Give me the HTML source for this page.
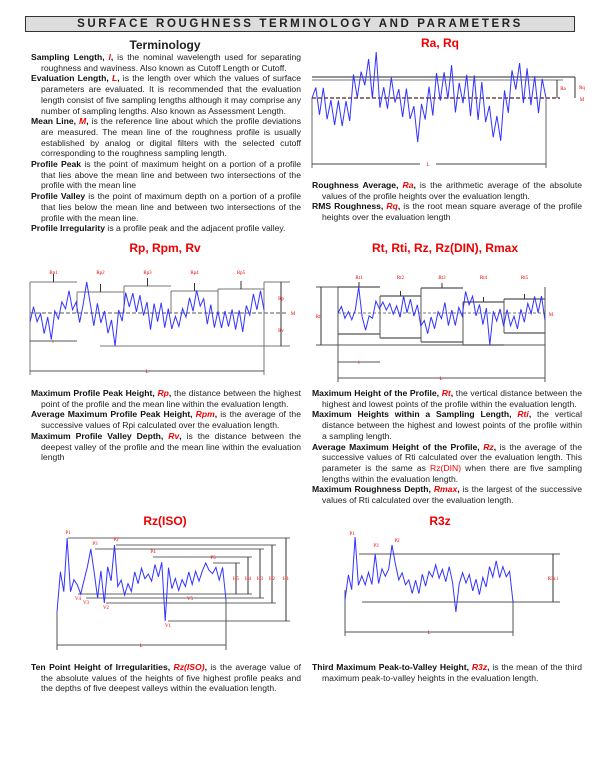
<!DOCTYPE html>
<html><head><meta charset="utf-8">
<style>
body{margin:0;width:600px;height:776px;background:#fff;position:relative;overflow:hidden;font-family:"Liberation Sans",sans-serif;color:#222}
.hdr{position:absolute;left:25px;top:16px;width:548px;height:14px;border:1.5px solid #333;background:#ddd;font-weight:bold;font-size:11.5px;letter-spacing:2.6px;text-align:center;line-height:15px}
.t{position:absolute;font-weight:bold;font-size:12px;text-align:center}
.r{color:#e00}
.txt{position:absolute;font-size:8.6px;line-height:10.7px;text-align:justify}
.txt p{margin:0;padding-left:10px;text-indent:-10px}
.txt b{color:#111}
.txt i{color:#e00;font-weight:bold}
svg{position:absolute;left:0;top:0}
</style></head><body>
<div class="hdr">SURFACE ROUGHNESS TERMINOLOGY AND PARAMETERS</div>
<div class="t" style="left:80px;top:38px;width:170px">Terminology</div>
<div class="t r" style="left:380px;top:36px;width:120px">Ra, Rq</div>
<div class="t r" style="left:80px;top:241px;width:170px">Rp, Rpm, Rv</div>
<div class="t r" style="left:340px;top:241px;width:210px">Rt, Rti, Rz, Rz(DIN), Rmax</div>
<div class="t r" style="left:80px;top:514px;width:170px">Rz(ISO)</div>
<div class="t r" style="left:380px;top:514px;width:120px">R3z</div>

<div class="txt" style="left:31px;top:52px;width:270px">
<p><b>Sampling Length, <i>l</i>,</b> is the nominal wavelength used for separating roughness and waviness. Also known as Cutoff Length or Cutoff.</p>
<p><b>Evaluation Length, <i>L</i>,</b> is the length over which the values of surface parameters are evaluated. It is recommended that the evaluation length consist of five sampling lengths although it may comprise any number of sampling lengths. Also known as Assessment Length.</p>
<p><b>Mean Line, <i>M</i>,</b> is the reference line about which the profile deviations are measured. The mean line of the roughness profile is usually established by analog or digital filters with the selected cutoff corresponding to the roughness sampling length.</p>
<p><b>Profile Peak</b> is the point of maximum height on a portion of a profile that lies above the mean line and between two intersections of the profile with the mean line</p>
<p><b>Profile Valley</b> is the point of maximum depth on a portion of a profile that lies below the mean line and between two intersections of the profile with the mean line.</p>
<p><b>Profile Irregularity</b> is a profile peak and the adjacent profile valley.</p>
</div>

<div class="txt" style="left:312px;top:180px;width:270px">
<p><b>Roughness Average, <i>Ra</i>,</b> is the arithmetic average of the absolute values of the profile heights over the evaluation length.</p>
<p><b>RMS Roughness, <i>Rq</i>,</b> is the root mean square average of the profile heights over the evaluation length</p>
</div>

<div class="txt" style="left:31px;top:388px;width:270px">
<p><b>Maximum Profile Peak Height, <i>Rp</i>,</b> the distance between the highest point of the profile and the mean line within the evaluation length.</p>
<p><b>Average Maximum Profile Peak Height, <i>Rpm</i>,</b> is the average of the successive values of Rpi calculated over the evaluation length.</p>
<p><b>Maximum Profile Valley Depth, <i>Rv</i>,</b> is the distance between the deepest valley of the profile and the mean line within the evaluation length</p>
</div>

<div class="txt" style="left:312px;top:388px;width:270px">
<p><b>Maximum Height of the Profile, <i>Rt</i>,</b> the vertical distance between the highest and lowest points of the profile within the evaluation length.</p>
<p><b>Maximum Heights within a Sampling Length, <i>Rti</i>,</b> the vertical distance between the highest and lowest points of the profile within a sampling length.</p>
<p><b>Average Maximum Height of the Profile, <i>Rz</i>,</b> is the average of the successive values of Rti calculated over the evaluation length. This parameter is the same as <span class="r">Rz(DIN)</span> when there are five sampling lengths within the evaluation length.</p>
<p><b>Maximum Roughness Depth, <i>Rmax</i>,</b> is the largest of the successive values of Rti calculated over the evaluation length.</p>
</div>

<div class="txt" style="left:31px;top:662px;width:270px">
<p><b>Ten Point Height of Irregularities, <i>Rz(ISO)</i>,</b> is the average value of the absolute values of the heights of five highest profile peaks and the depths of five deepest valleys within the evaluation length.</p>
</div>
<div class="txt" style="left:312px;top:662px;width:270px">
<p><b>Third Maximum Peak-to-Valley Height, <i>R3z</i>,</b> is the mean of the third maximum peak-to-valley heights in the evaluation length.</p>
</div>

<svg id="s" width="600" height="776" xmlns="http://www.w3.org/2000/svg" font-family="Liberation Serif" font-size="5" fill="#e00"></svg>
<script>
var s=document.getElementById('s'),h='';
var seed=7;function rnd(){seed=(seed*16807)%2147483647;return seed/2147483647;}
function prof(x0,x1,mid,amp,n,fix){var p=[],dx=(x1-x0)/n;
var ph1=rnd()*6.28,ph2=rnd()*6.28,f1=0.25+rnd()*0.15,f2=0.6+rnd()*0.3;
for(var i=0;i<=n;i++){
var y=mid+amp*(0.45*Math.sin(i*f1+ph1)+0.25*Math.sin(i*f2+ph2))+(i%2?-1:1)*(0.15+rnd()*0.5)*amp;
if(fix&&fix[i]!==undefined)y=fix[i];p.push((x0+i*dx).toFixed(1)+','+y.toFixed(1));}return '<polyline points="'+p.join(' ')+'" fill="none" stroke="#33f" stroke-width="1"/>';}
function L(x1,y1,x2,y2,c,w,d){return '<line x1="'+x1+'" y1="'+y1+'" x2="'+x2+'" y2="'+y2+'" stroke="'+(c||'#666')+'" stroke-width="'+(w||1)+'"'+(d?' stroke-dasharray="'+d+'"':'')+'/>';}
function T(x,y,t){return '<text x="'+x+'" y="'+y+'" text-anchor="middle">'+t+'</text>';}
// Ra
h+=L(312,77,575,77,'#555',1.2)+L(312,80,563,80,'#777');
h+=L(312,98,560,98,'#522',1.2,'4,2');
h+=L(312,98,312,168)+L(546,98,546,168)+L(312,164,420,164,'#444')+L(436,164,546,164,'#444');
h+=L(557,80,557,98,'#333')+L(575,77,575,98,'#333');
h+=T(428,166,'L')+T(563,90,'Ra')+T(582,89,'Rq')+T(582,101,'M');
seed=11;h+=prof(312,546,98,36,62,{0:98,17:52,62:98});
// Rp
var bx=[30,77,124,171,218,264],bt=[282,292,286,291,289];
h+=L(30,313,288,313,'#777',1.2,'4,2');
for(var i=0;i<5;i++){h+=L(bx[i],bt[i],bx[i+1],bt[i],'#777')+L(bx[i],bt[i],bx[i],i==0?375:313,'#777')+L((bx[i]+bx[i+1])/2,bt[i]-8,(bx[i]+bx[i+1])/2,bt[i],'#333')+T((bx[i]+bx[i+1])/2,274,'Rp'+(i+1));}
h+=L(264,282,290,282,'#777')+L(264,282,264,375,'#777')+L(100,346,290,346,'#777');
h+=L(281,282,281,346,'#333')+L(30,341,77,341,'#555')+L(30,371,264,371,'#555');
h+=T(281,300,'Rp')+T(281,332,'Rv')+T(293,315,'M')+T(53,343,'l')+T(147,373,'L');
seed=5;h+=prof(30,264,313,22,66,{0:322,16:282,24:346});
// Rt
var rx=[338,380,421,463,504,545],rtp=[287,296,288,302,299],rbt=[334,338,342,345,333];
h+=L(316,287,338,287,'#555')+L(316,345,545,345,'#555')+L(321,287,321,345,'#333');
for(var i=0;i<5;i++){h+=L(rx[i],rtp[i],rx[i+1],rtp[i],'#555',1.2)+L(rx[i],rbt[i],rx[i+1],rbt[i],'#555',1.2)+L(rx[i],rtp[i],rx[i],i==0?382:rbt[i],'#555')+L((rx[i]+rx[i+1])/2,rtp[i]-5,(rx[i]+rx[i+1])/2,rtp[i],'#333')+T((rx[i]+rx[i+1])/2,279,'Rt'+(i+1));}
h+=L(545,287,545,382,'#555')+L(338,313,545,313,'#777',1,'3,2');
h+=L(338,362,380,362,'#555')+L(338,378,545,378,'#555');
h+=T(318,318,'Rt')+T(551,316,'M')+T(359,364,'l')+T(441,380,'L');
seed=3;h+=prof(338,545,313,18,60,{0:313,6:287,44:345});
// Rz ISO
var pk=[[68,538],[116,545],[95,549],[153,557],[213,563]],vl=[[168,621],[106,603],[86,598],[78,594],[190,594]];
var dxs=[286,272,260,248,236];
for(var i=0;i<5;i++){h+=L(pk[i][0],pk[i][1],dxs[i]+4,pk[i][1],'#666')+L(vl[i][0],vl[i][1],dxs[i]+4,vl[i][1],'#666')+L(dxs[i],pk[i][1],dxs[i],vl[i][1],'#333')+T(dxs[i],580,'H'+(i+1))+T(pk[i][0],pk[i][1]-4,'P'+(i+1))+T(vl[i][0],vl[i][1]+6,'V'+(i+1));}
h+=L(57,612,57,650,'#555')+L(226,600,226,650,'#555')+L(57,645,226,645,'#555')+T(141,647,'L');
seed=21;h+=prof(57,226,578,14,50,{0:612,3:538,7:594,10:549,12:598,14:603,17:545,32:621,44:563,50:600});
// R3z
h+=L(359,554,560,554,'#555')+L(362,602,560,602,'#555')+L(553,554,553,602,'#333')+T(553,580,'R3z i');
h+=L(345,590,345,636,'#555')+L(513,600,513,636,'#555')+L(345,632,513,632,'#555')+T(429,634,'L');
h+=T(352,535,'P1')+T(397,542,'P2')+T(376,547,'P3');
seed=9;h+=prof(345,513,578,14,50,{0:600,3:537,9:554,14:545,33:612,50:602});
s.innerHTML=h;
</script>
</body></html>
